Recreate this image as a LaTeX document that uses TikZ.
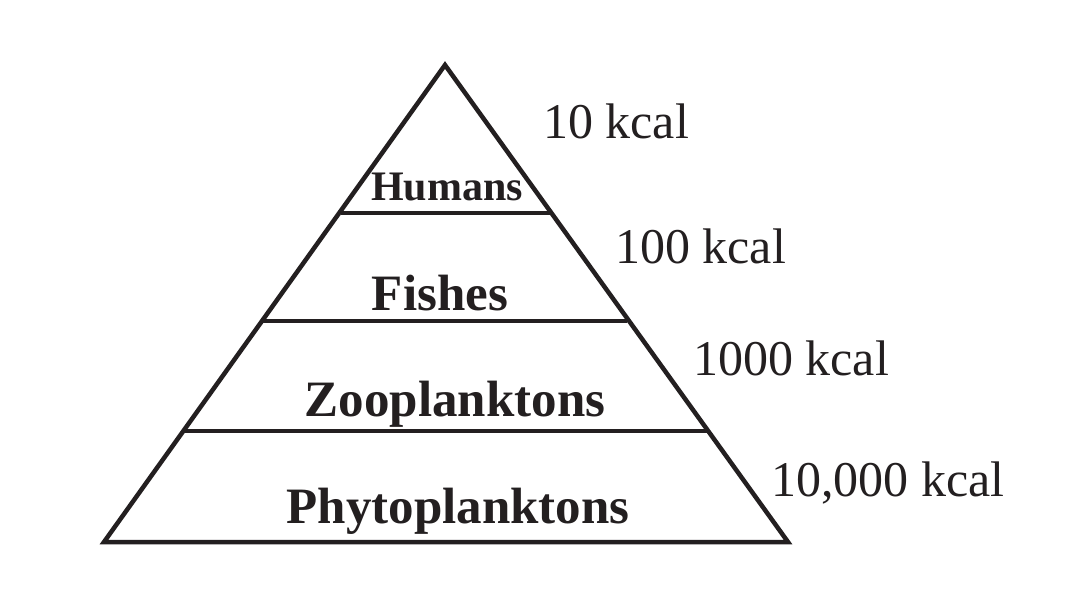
\documentclass[tikz,border=0pt]{standalone}
\usepackage{fontspec}
\setmainfont{Liberation Serif}
\definecolor{ink}{HTML}{231F20}
\begin{document}
\begin{tikzpicture}[x=1pt,y=-1pt,
  edge/.style={draw=ink,line width=4.5pt,line join=miter},
  tier/.style={draw=ink,line width=4pt},
  level/.style={text=ink,inner sep=0pt,anchor=base,font=\fontsize{51}{60}\selectfont\bfseries},
  energy/.style={text=ink,inner sep=0pt,anchor=base west,font=\fontsize{50}{60}\selectfont}]
\useasboundingbox[fill=white] (0,0) rectangle (1080,616);
\coordinate (apex) at (445,65);
\coordinate (bl) at (104,542);
\coordinate (br) at (788,542);
\draw[edge] (apex) -- (bl) -- (br) -- cycle;
\coordinate (h1) at (341,213); \coordinate (h2) at (550,213);
\coordinate (f1) at (263,321); \coordinate (f2) at (627,321);
\coordinate (z1) at (184,431); \coordinate (z2) at (707,431);
\draw[tier] (h1) -- (h2);
\draw[tier] (f1) -- (f2);
\draw[tier] (z1) -- (z2);
\node[level,font=\fontsize{42}{50}\selectfont\bfseries] (humans) at (447,200) {Humans};
\node[level] (fishes) at (440,310) {Fishes};
\node[level] (zoo) at (455,416) {Zooplanktons};
\node[level] (phyto) at (458,523) {Phytoplanktons};
\node[energy] (e10) at (543,138) {10 kcal};
\node[energy] (e100) at (615,263) {100 kcal};
\node[energy] (e1000) at (693,375) {1000 kcal};
\node[energy] (e10000) at (771,496) {10,000 kcal};
\end{tikzpicture}
\end{document}
